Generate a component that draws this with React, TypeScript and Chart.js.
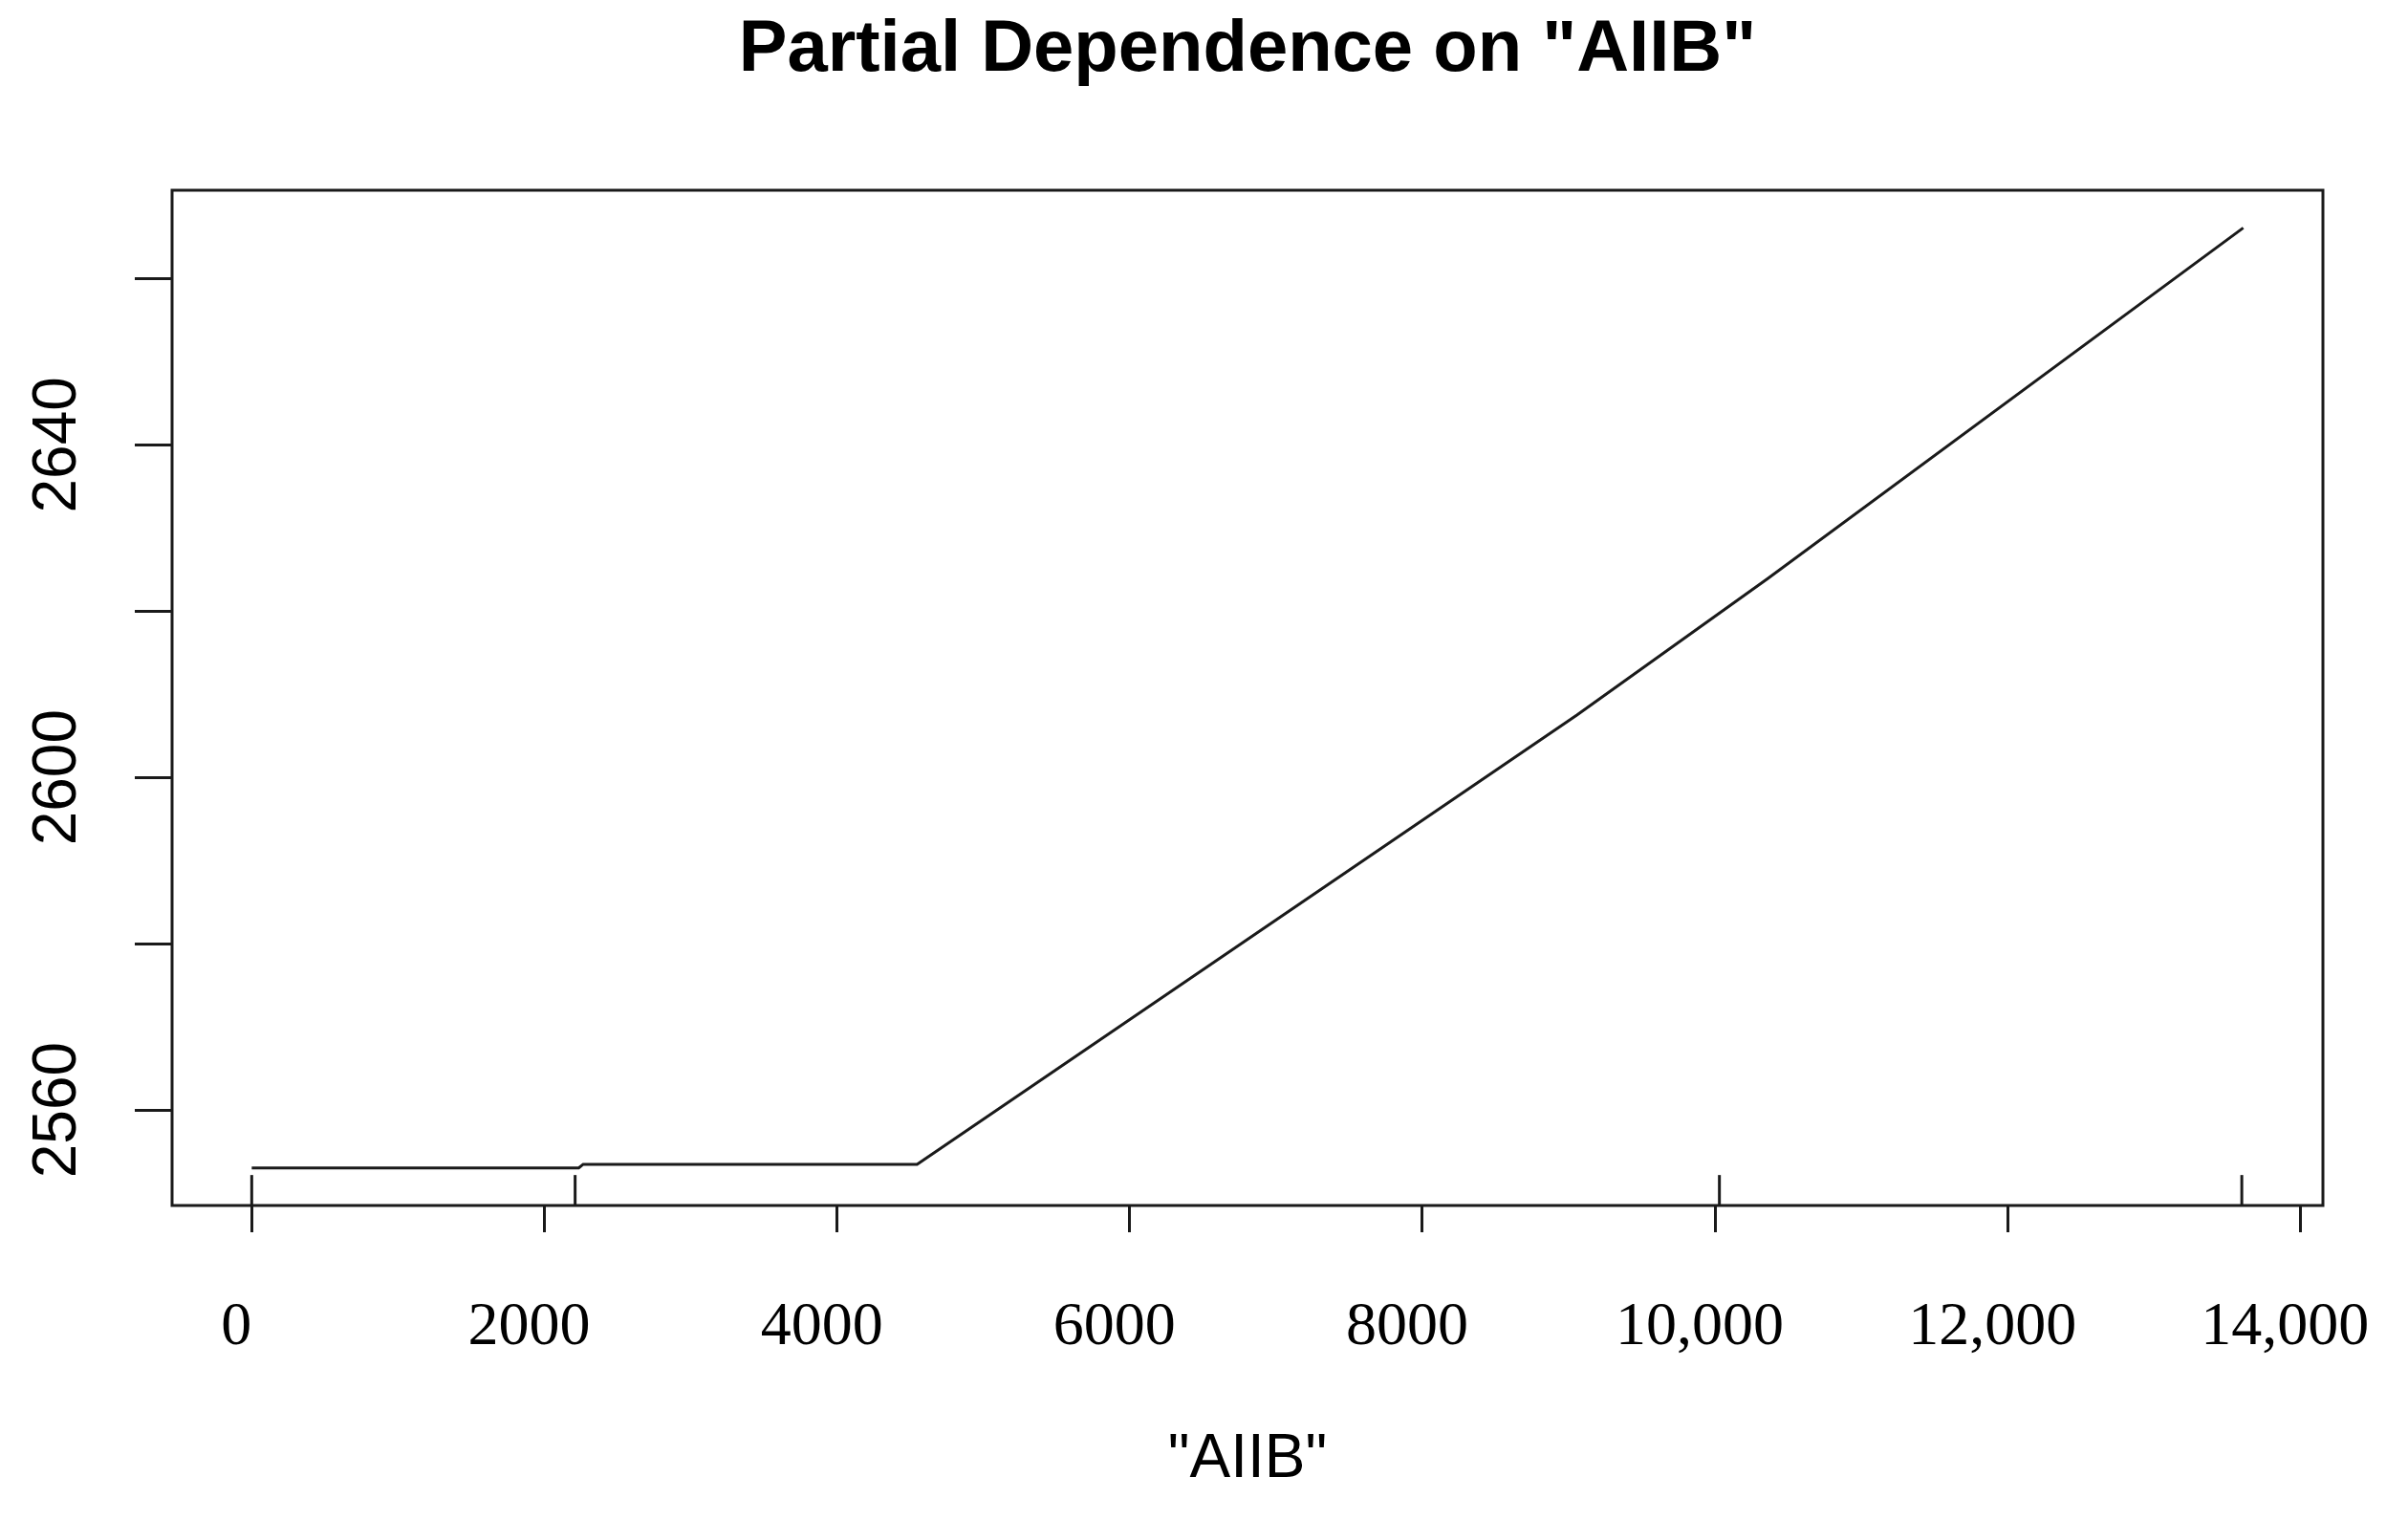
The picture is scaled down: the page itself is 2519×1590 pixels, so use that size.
import React, { useEffect, useRef } from "react";
import { Chart, registerables } from "chart.js";

Chart.register(...registerables);

// Partial dependence curve of "AIIB"
const xValues = [0, 2235, 2265, 4547, 9056, 10360, 13610];
const yValues = [2553.03, 2553.03, 2553.46, 2553.46, 2607.5, 2623.9, 2666.1];

// rug (deciles of the data)
const rugValues = [0, 2210, 10030, 13600];

// axis ticks
const xTickValues = [0, 2000, 4000, 6000, 8000, 10000, 12000, 14000];
const xTickLabels = ["0", "2000", "4000", "6000", "8000", "10,000", "12,000", "14,000"];
const yTickValues = [2560, 2580, 2600, 2620, 2640, 2660];
const yTickLabels = ["2560", "", "2600", "", "2640", ""];

const titleText = 'Partial Dependence on "AIIB"';
const xTitleText = '"AIIB"';

const ink = "#1a1a1a";

function extend(vals: number[]) {
  const mn = Math.min(...vals);
  const mx = Math.max(...vals);
  const r = mx - mn;
  return { min: mn - 0.04 * r, max: mx + 0.04 * r };
}

const boxAndRug = {
  id: "boxAndRug",
  afterDatasetsDraw(chart: any) {
    const { ctx, chartArea } = chart;
    const xs = chart.scales.x;
    const h = chartArea.bottom - chartArea.top;
    ctx.save();
    ctx.strokeStyle = ink;
    ctx.lineWidth = 3;
    rugValues.forEach((v) => {
      const px = xs.getPixelForValue(v);
      ctx.beginPath();
      ctx.moveTo(px, chartArea.bottom);
      ctx.lineTo(px, chartArea.bottom - 0.03 * h);
      ctx.stroke();
    });
    ctx.strokeRect(
      chartArea.left,
      chartArea.top,
      chartArea.right - chartArea.left,
      chartArea.bottom - chartArea.top
    );
    ctx.restore();
  },
};

export default function App() {
  const canvasRef = useRef<HTMLCanvasElement | null>(null);

  useEffect(() => {
    document.body.style.margin = "0";
    const canvas = canvasRef.current;
    if (!canvas) return;
    const xr = extend(xValues);
    const yr = extend(yValues);
    const chart = new Chart(canvas, {
      type: "line",
      data: {
        datasets: [
          {
            data: xValues.map((x, i) => ({ x, y: yValues[i] })),
            borderColor: ink,
            borderWidth: 3,
            pointRadius: 0,
            tension: 0,
            fill: false,
          },
        ],
      },
      options: {
        animation: false,
        responsive: false,
        devicePixelRatio: 1,
        layout: { padding: { left: 0, right: 89, top: 0, bottom: 0 } },
        plugins: {
          legend: { display: false },
          tooltip: { enabled: false },
          title: {
            display: true,
            text: titleText,
            fullSize: false,
            color: "#000",
            font: { family: "Liberation Sans", size: 76, weight: "bold", lineHeight: 1 },
            padding: { top: 15, bottom: 108 },
          },
        },
        scales: {
          x: {
            type: "linear",
            min: xr.min,
            max: xr.max,
            afterBuildTicks: (s: any) => {
              s.ticks = xTickValues.map((v) => ({ value: v }));
            },
            afterFit: (s: any) => {
              s.height = 329;
              s.paddingLeft = 0;
              s.paddingRight = 0;
            },
            border: { display: false },
            grid: {
              display: true,
              drawOnChartArea: false,
              drawTicks: true,
              tickLength: 28,
              tickWidth: 3,
              tickColor: ink,
            },
            ticks: {
              autoSkip: false,
              maxRotation: 0,
              minRotation: 0,
              padding: 62,
              labelOffset: -16,
              color: "#000",
              font: { family: "Liberation Serif", size: 64 },
              callback: (v: any) => {
                const i = xTickValues.indexOf(Number(v));
                return i >= 0 ? xTickLabels[i] : "";
              },
            },
            title: {
              display: true,
              text: xTitleText,
              color: "#000",
              font: { family: "Liberation Sans", size: 64, lineHeight: 1 },
              padding: { top: 0, bottom: 31 },
            },
          },
          y: {
            type: "linear",
            min: yr.min,
            max: yr.max,
            afterBuildTicks: (s: any) => {
              s.ticks = yTickValues.map((v) => ({ value: v }));
            },
            afterFit: (s: any) => {
              s.width = 180;
              s.paddingTop = 0;
              s.paddingBottom = 0;
            },
            border: { display: false },
            grid: {
              display: true,
              drawOnChartArea: false,
              drawTicks: true,
              tickLength: 39,
              tickWidth: 3,
              tickColor: ink,
            },
            ticks: {
              autoSkip: false,
              minRotation: 90,
              maxRotation: 90,
              crossAlign: "center",
              padding: 8,
              color: "#000",
              font: { family: "Liberation Sans", size: 64 },
              callback: (v: any) => {
                const i = yTickValues.indexOf(Number(v));
                return i >= 0 ? yTickLabels[i] : "";
              },
            },
          },
        },
      },
      plugins: [boxAndRug],
    } as any);
    return () => chart.destroy();
  }, []);

  return (
    <div style={{ width: 2519, height: 1590, background: "#fff" }}>
      <canvas ref={canvasRef} width={2519} height={1590} style={{ display: "block" }} />
    </div>
  );
}
